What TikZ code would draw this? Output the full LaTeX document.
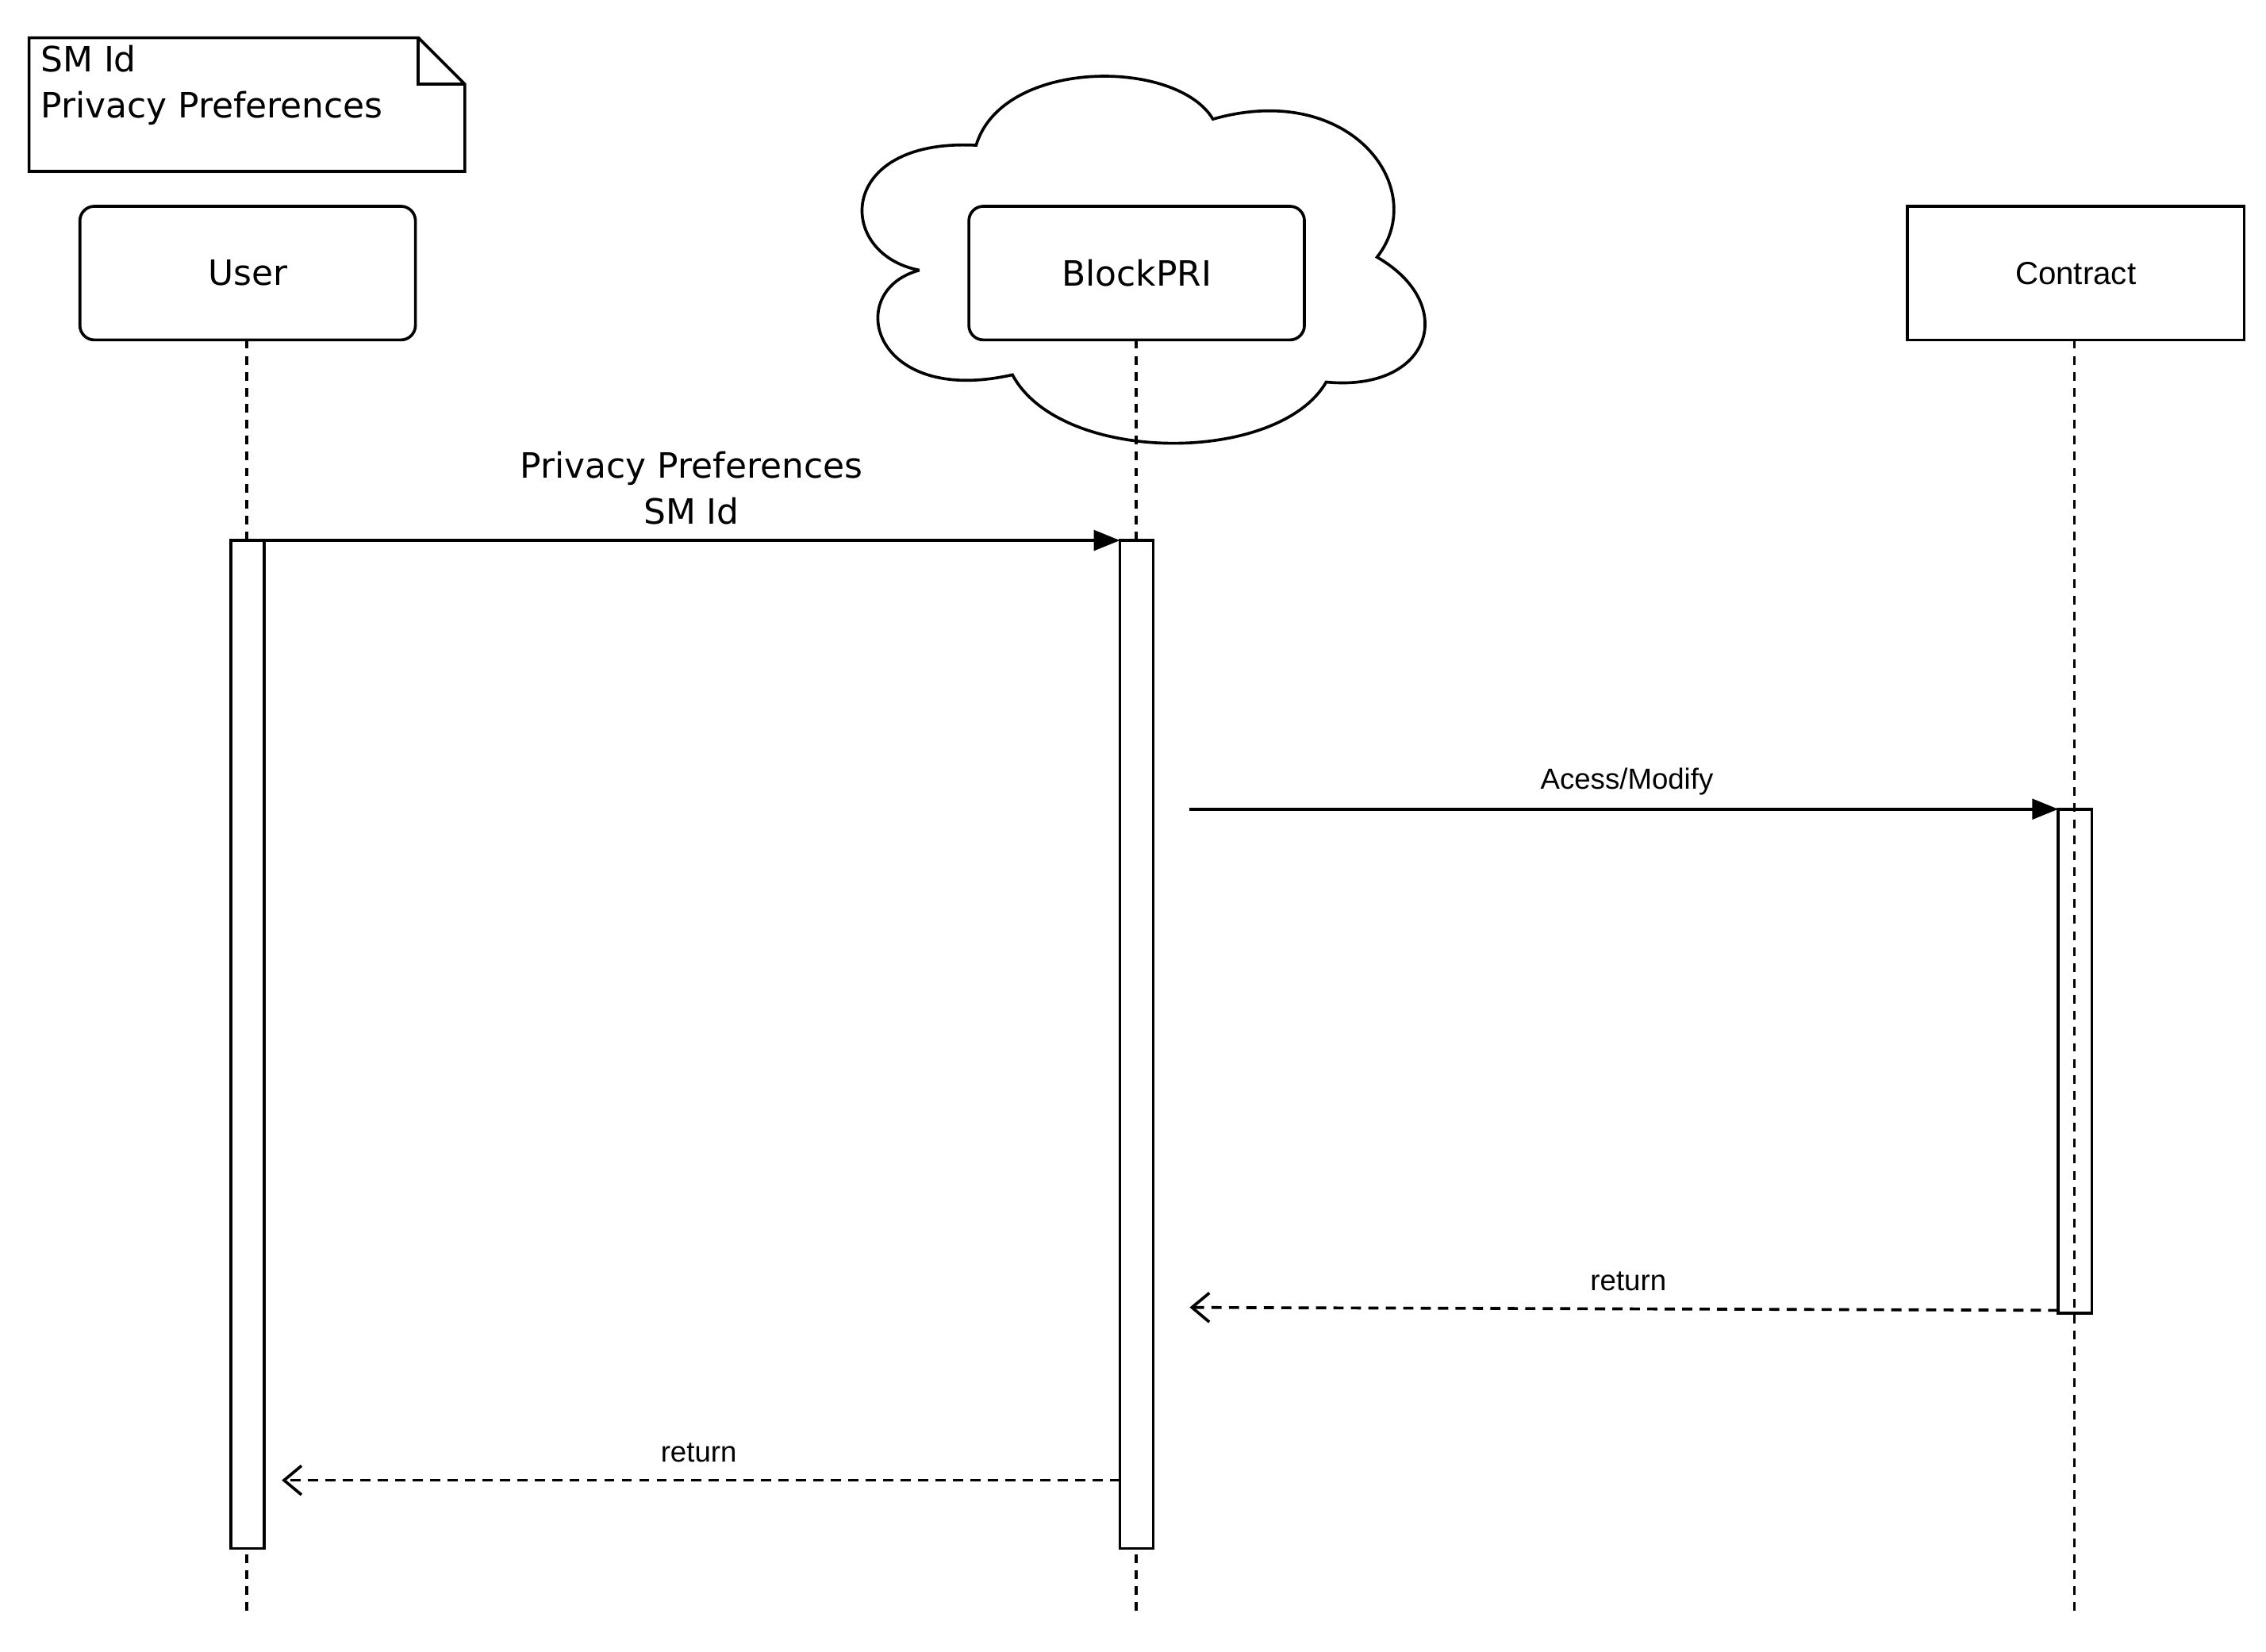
\documentclass[tikz,border=0pt]{standalone}
\usepackage{fontspec}
\setmainfont{DejaVu Sans}
\newfontfamily\lib{Liberation Sans}
\usetikzlibrary{arrows.meta}
\begin{document}
\begin{tikzpicture}[x=1pt,y=-1pt,line width=2pt,
  ll/.style={dashed,dash pattern=on 6pt off 5pt},
  act/.style={draw,fill=white},
  msg/.style={-{Triangle[length=18pt,width=14pt]}},
  ret/.style={dashed,dash pattern=on 7pt off 5pt,-{Straight Barb[length=12pt,width=20pt]}},
  dv/.style={font=\fontsize{24}{32}\selectfont},
  lv/.style={font=\lib\fontsize{22}{26}\selectfont}]
\useasboundingbox (0,0) rectangle (1560,1137);
% note
\draw (20,26) -- (288,26) -- (320,58) -- (320,118) -- (20,118) -- cycle;
\draw (288,26) -- (288,58) -- (320,58);
\node[dv,anchor=north west,align=left,inner sep=0pt] (note) at (27,30) {SM Id\\Privacy Preferences};
% cloud
\draw[fill=white] (633,186) .. controls (575,175) and (575,95) .. (672,100)
 .. controls (690,40) and (810,40) .. (835,82)
 .. controls (930,55) and (985,130) .. (948,177)
 .. controls (1005,210) and (985,270) .. (913,263)
 .. controls (880,320) and (730,320) .. (697,258)
 .. controls (600,280) and (580,200) .. (633,186);
% lifelines
\coordinate (u1) at (170,234); \coordinate (u2) at (170,1112);
\coordinate (b1) at (782,234); \coordinate (b2) at (782,1112);
\coordinate (c1) at (1428,234); \coordinate (c2) at (1428,1112);
\draw[ll] (u1)--(u2); \draw[ll] (b1)--(b2);
% boxes
\node[dv,draw,fill=white,rounded corners=10pt,minimum width=231pt,minimum height=92pt] (user) at (170.5,188) {User};
\node[dv,draw,fill=white,rounded corners=10pt,minimum width=231pt,minimum height=92pt] (blk) at (782.5,188) {BlockPRI};
\node[lv,draw,fill=white,minimum width=232pt,minimum height=92pt] (con) at (1429,188) {Contract};
% activations
\node[act,minimum width=23pt,minimum height=694pt,inner sep=0pt] (au) at (170.5,719) {};
\node[act,minimum width=23pt,minimum height=694pt,inner sep=0pt] (ab) at (782.5,719) {};
\node[act,minimum width=23pt,minimum height=347pt,inner sep=0pt] (ac) at (1428.5,730.5) {};
\draw[ll] (c1)--(c2);
% messages
\coordinate (m1s) at (182,372); \coordinate (m1e) at (771,372);
\draw[msg] (m1s) -- (m1e);
\node[dv,align=center] (l1) at (476,336) {Privacy Preferences\\SM Id};
\coordinate (m2s) at (819,557); \coordinate (m2e) at (1417,557);
\draw[msg] (m2s) -- (m2e);
\node[lv,font=\lib\fontsize{20}{24}\selectfont] (l2) at (1120,538) {Acess/Modify};
\coordinate (r1s) at (1417,902); \coordinate (r1e) at (819,900);
\draw[ret] (r1s) -- (r1e);
\node[font=\lib\fontsize{20}{24}\selectfont] (l3) at (1121,882) {return};
\coordinate (r2s) at (771,1019); \coordinate (r2e) at (194,1019);
\draw[ret] (r2s) -- (r2e);
\node[font=\lib\fontsize{20}{24}\selectfont] (l4) at (481,1000) {return};
\end{tikzpicture}
\end{document}
